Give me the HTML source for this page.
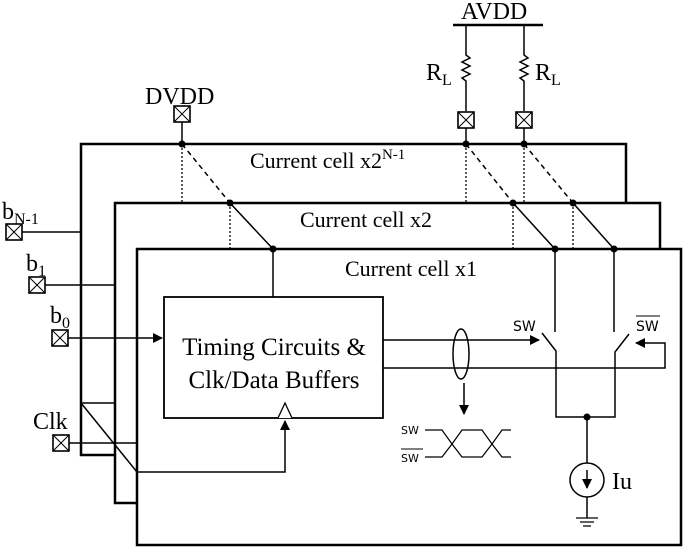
<!DOCTYPE html>
<html><head><style>body{margin:0;background:#fff}svg{display:block}</style></head><body>
<svg width="685" height="550" viewBox="0 0 685 550" xmlns="http://www.w3.org/2000/svg" font-family="Liberation Serif, serif">
<defs>
<marker id="ar" markerWidth="10" markerHeight="10" refX="9" refY="5" orient="auto" markerUnits="userSpaceOnUse"><path d="M0,0 L10,5 L0,10 z" fill="#000"/></marker>
<g id="pad"><rect x="-8" y="-8" width="16" height="16" fill="#fff" stroke="#000" stroke-width="1.6"/><path d="M-8,-8 L8,8 M8,-8 L-8,8" stroke="#000" stroke-width="1"/></g>
</defs>
<g fill="none" stroke="#000">
<rect x="81" y="144" width="545" height="311" fill="#fff" stroke-width="2.5"/>
<rect x="115" y="203" width="545" height="300" fill="#fff" stroke-width="2.5"/>
<rect x="137" y="249" width="544" height="296" fill="#fff" stroke-width="2.5"/>
<line x1="182" y1="122" x2="182" y2="144" stroke-width="1.5"/>
<line x1="182" y1="144" x2="182" y2="203" stroke-dasharray="2,2" stroke-width="1.3"/>
<line x1="230" y1="203" x2="230" y2="249" stroke-dasharray="2,2" stroke-width="1.3"/>
<line x1="182" y1="144" x2="230" y2="203" stroke-dasharray="5,4" stroke-width="1.5"/>
<line x1="230" y1="203" x2="273" y2="249" stroke-width="1.5"/>
<line x1="273" y1="249" x2="273" y2="297" stroke-width="1.5"/>
<line x1="453" y1="25" x2="543" y2="25" stroke-width="2.5"/>
<path d="M466,25 V55 l4,3 -8,4 8,4 -8,4 8,4 -8,4 4,3 V111" stroke-width="1.5"/>
<path d="M524,25 V55 l4,3 -8,4 8,4 -8,4 8,4 -8,4 4,3 V111" stroke-width="1.5"/>
<line x1="466" y1="128" x2="466" y2="144" stroke-width="1.5"/>
<line x1="524" y1="128" x2="524" y2="144" stroke-width="1.5"/>
<line x1="466" y1="144" x2="466" y2="203" stroke-dasharray="2,2" stroke-width="1.3"/>
<line x1="524" y1="144" x2="524" y2="203" stroke-dasharray="2,2" stroke-width="1.3"/>
<line x1="513" y1="203" x2="513" y2="249" stroke-dasharray="2,2" stroke-width="1.3"/>
<line x1="573" y1="203" x2="573" y2="249" stroke-dasharray="2,2" stroke-width="1.3"/>
<line x1="466" y1="144" x2="513" y2="203" stroke-dasharray="5,4" stroke-width="1.5"/>
<line x1="524" y1="144" x2="573" y2="203" stroke-dasharray="5,4" stroke-width="1.5"/>
<line x1="513" y1="203" x2="555" y2="249" stroke-width="1.5"/>
<line x1="573" y1="203" x2="614" y2="249" stroke-width="1.5"/>
<line x1="555" y1="249" x2="555" y2="332" stroke-width="1.5"/>
<line x1="614" y1="249" x2="614" y2="332" stroke-width="1.5"/>
<rect x="164" y="297" width="219" height="121" stroke-width="1.8"/>
<path d="M278,418 L285,403 L292,418" fill="#fff" stroke-width="1.3"/>
<line x1="383" y1="340" x2="539" y2="340" stroke-width="1.5" marker-end="url(#ar)"/>
<path d="M542,333 L556,351 V417 H615 V352 L629,334" stroke-width="1.5"/>
<path d="M383,368 H665 V343 H636" stroke-width="1.5" marker-end="url(#ar)"/>
<line x1="587" y1="417" x2="587" y2="463" stroke-width="1.5"/>
<circle cx="587" cy="480" r="17" stroke-width="1.5"/>
<line x1="587" y1="470" x2="587" y2="488" stroke-width="1.5" marker-end="url(#ar)"/>
<line x1="587" y1="497" x2="587" y2="518" stroke-width="1.5"/>
<path d="M576,518 H598 M580,522 H594 M583,526 H591" stroke-width="1.3"/>
<ellipse cx="461" cy="354" rx="8" ry="25" stroke-width="1.5"/>
<line x1="464" y1="383" x2="464" y2="414" stroke-width="1.5" marker-end="url(#ar)"/>
<path d="M425,430 H442 L452,444 L462,457 H482 L492,444 L502,430 H511 M425,457 H442 L452,444 L462,430 H482 L492,444 L502,457 H511" stroke-width="1.2"/>
<line x1="22" y1="232" x2="81" y2="232" stroke-width="1.5"/>
<line x1="45" y1="285" x2="115" y2="285" stroke-width="1.5"/>
<line x1="68" y1="338" x2="162" y2="338" stroke-width="1.5" marker-end="url(#ar)"/>
<line x1="69" y1="443" x2="137" y2="443" stroke-width="1.5"/>
<line x1="81" y1="403" x2="115" y2="403" stroke-width="1.5"/>
<line x1="81" y1="403" x2="137" y2="472" stroke-width="1.5"/>
<path d="M137,472 H285 V421" stroke-width="1.5" marker-end="url(#ar)"/>
</g>
<g fill="#000">
<circle cx="182" cy="144" r="3.5"/><circle cx="230" cy="203" r="3.5"/><circle cx="273" cy="249" r="3.5"/>
<circle cx="466" cy="144" r="3.5"/><circle cx="524" cy="144" r="3.5"/><circle cx="513" cy="203" r="3.5"/><circle cx="573" cy="203" r="3.5"/>
<circle cx="555" cy="249" r="3.5"/><circle cx="614" cy="249" r="3.5"/><circle cx="587" cy="417" r="3.5"/>
</g>
<use href="#pad" x="182" y="114"/><use href="#pad" x="466" y="120"/><use href="#pad" x="524" y="120"/>
<use href="#pad" x="14" y="232"/><use href="#pad" x="37" y="285"/><use href="#pad" x="60" y="338"/><use href="#pad" x="61" y="443"/>
<g font-size="24" fill="#000">
<text x="461" y="19">AVDD</text>
<text x="145" y="104">DVDD</text>
<text x="426" y="80">R<tspan font-size="16" dy="5">L</tspan></text>
<text x="535" y="80">R<tspan font-size="16" dy="5">L</tspan></text>
<text x="250" y="168" font-size="22">Current cell x2<tspan font-size="15" dy="-9">N-1</tspan></text>
<text x="300" y="227" font-size="22">Current cell x2</text>
<text x="345" y="276" font-size="22">Current cell x1</text>
<text x="2" y="219">b<tspan font-size="16" dy="5">N-1</tspan></text>
<text x="26" y="271">b<tspan font-size="16" dy="5">1</tspan></text>
<text x="50" y="323">b<tspan font-size="16" dy="5">0</tspan></text>
<text x="33" y="429">Clk</text>
<text x="612" y="489">Iu</text>
<text x="274" y="355" text-anchor="middle" font-size="25">Timing Circuits &amp;</text>
<text x="274" y="388" text-anchor="middle" font-size="25">Clk/Data Buffers</text>
</g>
<g font-family="DejaVu Sans, sans-serif" font-size="14" fill="#000">
<text x="513" y="331">SW</text>
<text x="636" y="331">SW</text>
<text x="401" y="434" font-size="11">SW</text>
<text x="401" y="462" font-size="11">SW</text>
</g>
<path d="M636,316 H660 M401,449 H423" stroke="#000" stroke-width="1"/>
</svg>
</body></html>
